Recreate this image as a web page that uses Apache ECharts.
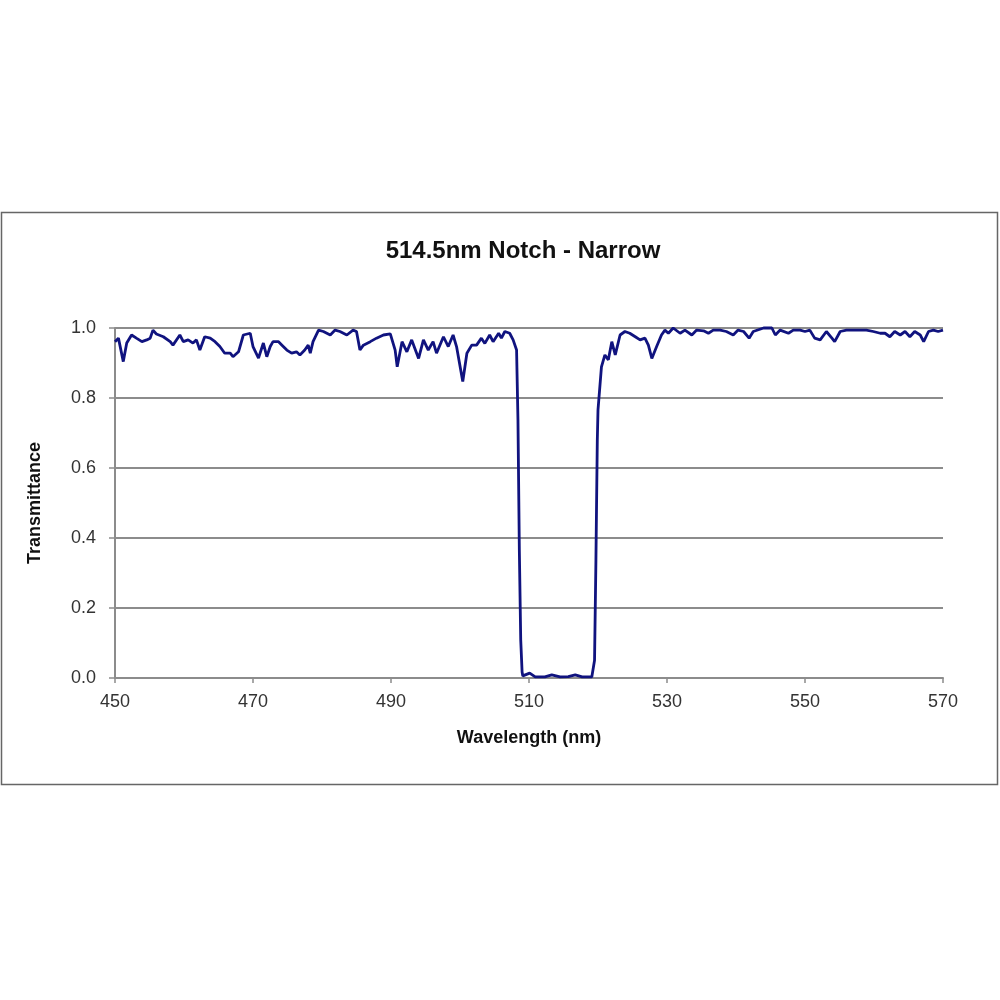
<!DOCTYPE html>
<html>
<head>
<meta charset="utf-8">
<script src="https://cdn.jsdelivr.net/npm/echarts@6/dist/echarts.min.js"></script>
<style>
html,body{margin:0;padding:0;background:#fff;}
#chart{width:1000px;height:1000px;}
</style>
</head>
<body>
<div id="chart"></div>
<script>
const chartTitle = "514.5nm Notch - Narrow";
const xAxisName = "Wavelength (nm)";
const yAxisName = "Transmittance";
const xTicks = [450, 470, 490, 510, 530, 550, 570];
const yTicks = [0.0, 0.2, 0.4, 0.6, 0.8, 1.0];

const wavelength = [
450.0,450.5,451.2,451.7,452.4,453.1,453.9,454.6,455.1,455.5,456.0,457.0,458.0,458.4,459.4,459.9,460.6,461.3,461.8,462.3,
463.0,463.8,464.5,465.2,465.9,466.7,467.1,467.9,468.6,469.6,470.0,470.8,471.5,472.0,472.5,472.9,473.7,474.2,474.9,475.6,
476.3,476.8,477.5,478.0,478.3,478.7,479.5,480.2,481.2,481.9,482.6,483.6,484.5,485.0,485.5,486.0,486.5,487.0,487.9,488.9,
489.9,490.6,490.9,491.6,492.3,493.0,494.0,494.7,495.4,496.1,496.6,497.6,498.3,499.0,499.5,500.4,501.0,501.7,502.4,503.1,
503.6,504.3,504.8,505.6,506.0,506.5,507.2,507.7,508.2,508.4,508.6,508.8,509.0,509.1,510.1,510.9,512.3,513.3,514.5,515.7,
516.7,517.7,519.1,519.5,519.7,519.9,520.0,520.5,521.0,521.5,522.0,522.5,523.2,523.9,524.6,525.4,526.1,526.8,527.3,527.8,
528.5,529.2,529.7,530.2,530.9,531.9,532.6,533.6,534.3,535.3,536.0,536.7,537.7,538.6,539.6,540.3,541.1,541.9,542.5,544.0,
545.2,545.7,546.4,547.6,548.3,549.3,550.0,550.7,551.4,552.2,553.1,553.9,554.3,555.1,556.0,557.5,558.9,559.9,560.9,561.6,
562.3,563.0,563.8,564.5,565.2,565.9,566.7,567.2,567.9,568.6,569.3,570.0
];
const transmittance = [
0.961,0.971,0.904,0.957,0.980,0.971,0.961,0.966,0.971,0.994,0.983,0.975,0.961,0.951,0.980,0.961,0.966,0.957,0.966,0.937,
0.975,0.971,0.961,0.947,0.928,0.928,0.918,0.932,0.980,0.985,0.947,0.914,0.957,0.918,0.947,0.961,0.961,0.951,0.937,0.928,
0.932,0.923,0.937,0.951,0.928,0.961,0.994,0.990,0.980,0.994,0.990,0.980,0.994,0.990,0.937,0.951,0.956,0.961,0.971,0.980,
0.983,0.937,0.889,0.961,0.932,0.966,0.913,0.966,0.937,0.961,0.928,0.975,0.947,0.980,0.947,0.847,0.928,0.951,0.951,0.971,
0.956,0.980,0.961,0.985,0.971,0.990,0.985,0.966,0.937,0.737,0.366,0.109,0.017,0.006,0.014,0.003,0.003,0.009,0.003,0.004,
0.009,0.003,0.003,0.051,0.337,0.680,0.766,0.889,0.923,0.909,0.961,0.923,0.980,0.990,0.985,0.975,0.966,0.971,0.951,0.913,
0.947,0.980,0.994,0.985,1.000,0.985,0.994,0.980,0.994,0.992,0.985,0.994,0.994,0.990,0.980,0.994,0.990,0.971,0.990,1.000,
1.000,0.980,0.994,0.985,0.994,0.994,0.990,0.994,0.971,0.966,0.990,0.971,0.961,0.990,0.994,0.994,0.994,0.990,0.985,0.985,
0.975,0.990,0.980,0.990,0.975,0.990,0.980,0.961,0.990,0.994,0.990,0.994
];

const seriesData = wavelength.map((w, i) => [w, transmittance[i]]);
const chart = echarts.init(document.getElementById('chart'));
const font = '"Liberation Sans", Arial, sans-serif';
chart.setOption({
  animation: false,
  backgroundColor: '#ffffff',
  graphic: [{
    type: 'rect', x: 0, y: 0,
    shape: { x: 1.5, y: 212.5, width: 996, height: 572 },
    style: { fill: 'none', stroke: '#666666', lineWidth: 1.5 },
    silent: true
  }],
  title: {
    text: chartTitle, left: 518, top: 234, textAlign: 'center',
    textStyle: { fontFamily: font, fontSize: 24, fontWeight: 'bold', color: '#111' }
  },
  grid: { left: 115, right: 57, top: 328, bottom: 322 },
  xAxis: {
    type: 'value', min: xTicks[0], max: xTicks[xTicks.length - 1], interval: 20,
    name: xAxisName, nameLocation: 'middle', nameGap: 51,
    nameTextStyle: { fontFamily: font, fontSize: 18, fontWeight: 'bold', color: '#111' },
    axisLine: { show: true, lineStyle: { color: '#8c8c8c', width: 2 } },
    axisTick: { show: true, length: 5, lineStyle: { color: '#8c8c8c', width: 1.5 } },
    axisLabel: { fontFamily: font, fontSize: 18, color: '#333', margin: 15 },
    splitLine: { show: false }
  },
  yAxis: {
    type: 'value', min: yTicks[0], max: yTicks[yTicks.length - 1], interval: 0.2,
    name: yAxisName, nameLocation: 'middle', nameGap: 71, nameRotate: 90,
    nameTextStyle: { fontFamily: font, fontSize: 18, fontWeight: 'bold', color: '#111' },
    axisLine: { show: true, lineStyle: { color: '#8c8c8c', width: 2 } },
    axisTick: { show: true, length: 6, lineStyle: { color: '#8c8c8c', width: 1.5 } },
    axisLabel: { fontFamily: font, fontSize: 18, color: '#333', margin: 19, formatter: v => v.toFixed(1) },
    splitLine: { show: true, lineStyle: { color: '#8c8c8c', width: 2 } }
  },
  series: [{
    type: 'line', data: seriesData, showSymbol: false, symbol: 'none',
    lineStyle: { color: '#10137f', width: 2.8 }, clip: false
  }]
});
</script>
</body>
</html>
